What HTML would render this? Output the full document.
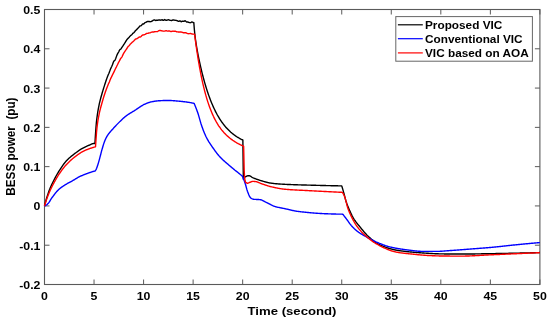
<!DOCTYPE html>
<html><head><meta charset="utf-8"><style>
html,body{margin:0;padding:0;background:#fff;}
svg{display:block;}
text{font-family:"Liberation Sans",Arial,sans-serif;font-weight:bold;fill:#000;}
</style></head><body>
<svg width="550" height="322" viewBox="0 0 550 322">
<rect width="550" height="322" fill="#fff"/>
<rect x="44.5" y="9.5" width="495.40" height="275.0" fill="none" stroke="#5a5a5a" stroke-width="1.1"/>
<path d="M44.50,284.5v-5M44.50,9.5v5M94.04,284.5v-5M94.04,9.5v5M143.58,284.5v-5M143.58,9.5v5M193.12,284.5v-5M193.12,9.5v5M242.66,284.5v-5M242.66,9.5v5M292.20,284.5v-5M292.20,9.5v5M341.74,284.5v-5M341.74,9.5v5M391.28,284.5v-5M391.28,9.5v5M440.82,284.5v-5M440.82,9.5v5M490.36,284.5v-5M490.36,9.5v5M539.90,284.5v-5M539.90,9.5v5M44.5,284.50h5M539.9,284.50h-5M44.5,245.21h5M539.9,245.21h-5M44.5,205.93h5M539.9,205.93h-5M44.5,166.64h5M539.9,166.64h-5M44.5,127.36h5M539.9,127.36h-5M44.5,88.07h5M539.9,88.07h-5M44.5,48.79h5M539.9,48.79h-5M44.5,9.50h5M539.9,9.50h-5" stroke="#5a5a5a" stroke-width="1" fill="none"/>
<path d="M44.50,205.93 L45.00,203.98 L45.50,202.09 L46.00,200.28 L46.50,198.54 L47.00,196.90 L47.50,195.34 L48.00,193.86 L48.49,192.45 L48.99,191.09 L49.49,189.79 L49.99,188.55 L50.49,187.35 L50.99,186.20 L51.49,185.09 L51.99,184.02 L52.49,182.99 L52.99,181.98 L53.49,180.99 L53.99,180.02 L54.49,179.06 L54.99,178.12 L55.49,177.20 L55.98,176.28 L56.48,175.39 L56.98,174.51 L57.48,173.64 L57.98,172.80 L58.48,171.98 L58.98,171.17 L59.48,170.39 L59.98,169.61 L60.48,168.84 L60.98,168.08 L61.48,167.32 L61.98,166.58 L62.48,165.85 L62.97,165.13 L63.47,164.44 L63.97,163.76 L64.47,163.11 L64.97,162.48 L65.47,161.88 L65.97,161.30 L66.47,160.76 L66.97,160.24 L67.47,159.74 L67.97,159.24 L68.47,158.77 L68.97,158.30 L69.47,157.85 L69.97,157.41 L70.46,156.98 L70.96,156.56 L71.46,156.15 L71.96,155.74 L72.46,155.34 L72.96,154.95 L73.46,154.57 L73.96,154.18 L74.46,153.81 L74.96,153.43 L75.46,153.06 L75.96,152.69 L76.46,152.31 L76.96,151.94 L77.46,151.58 L77.95,151.22 L78.45,150.86 L78.95,150.51 L79.45,150.17 L79.95,149.84 L80.45,149.52 L80.95,149.20 L81.45,148.90 L81.95,148.61 L82.45,148.33 L82.95,148.05 L83.45,147.79 L83.95,147.53 L84.45,147.28 L84.95,147.03 L85.44,146.80 L85.94,146.56 L86.44,146.34 L86.94,146.12 L87.44,145.90 L87.94,145.69 L88.44,145.48 L88.94,145.25 L89.44,145.01 L89.94,144.77 L90.44,144.53 L90.94,144.29 L91.44,144.08 L91.94,143.89 L92.44,143.72 L92.93,143.59 L93.43,143.50 L93.93,143.47 L94.43,143.46 L94.93,143.46 L94.93,143.46 L95.43,135.03 L95.93,127.98 L96.42,122.11 L96.92,117.82 L97.42,114.23 L97.91,111.10 L98.41,108.32 L98.91,105.78 L99.40,103.44 L99.90,101.32 L100.40,99.36 L100.89,97.52 L101.39,95.74 L101.89,93.97 L102.39,92.25 L102.88,90.59 L103.38,88.97 L103.88,87.39 L104.37,85.87 L104.87,84.27 L105.37,82.74 L105.86,81.25 L106.36,79.78 L106.86,78.36 L107.35,76.94 L107.85,75.73 L108.35,74.51 L108.84,73.44 L109.34,72.15 L109.84,70.85 L110.34,69.45 L110.83,68.34 L111.33,67.31 L111.83,66.28 L112.32,65.08 L112.82,63.72 L113.32,62.32 L113.81,61.24 L114.31,60.67 L114.81,60.35 L115.30,59.59 L115.80,58.30 L116.30,56.87 L116.80,55.43 L117.29,54.36 L117.79,53.39 L118.29,52.71 L118.78,51.73 L119.28,50.60 L119.78,49.73 L120.27,49.29 L120.77,49.02 L121.27,48.44 L121.76,47.61 L122.26,46.83 L122.76,46.14 L123.25,45.49 L123.75,44.70 L124.25,43.89 L124.75,43.02 L125.24,42.26 L125.74,41.49 L126.24,40.74 L126.73,39.87 L127.23,39.22 L127.73,38.67 L128.22,38.30 L128.72,37.63 L129.22,37.14 L129.71,36.43 L130.21,36.00 L130.71,35.41 L131.20,35.11 L131.70,34.71 L132.20,34.16 L132.70,33.56 L133.19,33.09 L133.69,32.79 L134.19,32.38 L134.68,31.72 L135.18,31.00 L135.68,30.46 L136.17,30.05 L136.67,29.66 L137.17,29.00 L137.66,28.44 L138.16,27.96 L138.66,27.57 L139.16,26.89 L139.65,26.29 L140.15,25.92 L140.65,25.85 L141.14,25.69 L141.64,25.15 L142.14,24.51 L142.63,24.02 L143.13,23.98 L143.63,23.95 L144.12,23.59 L144.62,23.00 L145.12,22.58 L145.61,22.44 L146.11,22.25 L146.61,21.90 L147.11,21.57 L147.60,21.41 L148.10,21.47 L148.60,21.43 L149.09,21.55 L149.59,21.54 L150.09,21.73 L150.58,21.62 L151.08,21.48 L151.58,21.31 L152.07,21.00 L152.57,20.79 L153.07,20.39 L153.57,20.19 L154.06,19.90 L154.56,19.91 L155.06,20.24 L155.55,20.49 L156.05,20.52 L156.55,20.19 L157.04,20.16 L157.54,20.21 L158.04,20.19 L158.53,20.03 L159.03,19.84 L159.53,19.96 L160.02,20.02 L160.52,20.22 L161.02,20.12 L161.52,19.96 L162.01,19.74 L162.51,19.98 L163.01,20.41 L163.50,20.39 L164.00,19.91 L164.50,19.53 L164.99,19.75 L165.49,20.11 L165.99,20.21 L166.48,20.20 L166.98,20.08 L167.48,20.02 L167.98,19.81 L168.47,19.81 L168.97,19.86 L169.47,20.05 L169.96,20.25 L170.46,20.33 L170.96,20.43 L171.45,20.47 L171.95,20.46 L172.45,20.27 L172.94,19.96 L173.44,19.89 L173.94,19.97 L174.43,20.18 L174.93,20.31 L175.43,20.32 L175.93,20.42 L176.42,20.47 L176.92,20.67 L177.42,20.78 L177.91,21.09 L178.41,21.31 L178.91,21.26 L179.40,21.06 L179.90,20.83 L180.40,21.24 L180.89,21.50 L181.39,21.75 L181.89,21.43 L182.39,21.29 L182.88,21.29 L183.38,21.40 L183.88,21.31 L184.37,20.98 L184.87,20.80 L185.37,20.88 L185.86,21.34 L186.36,21.78 L186.86,22.02 L187.35,22.04 L187.85,22.01 L188.35,22.23 L188.84,22.36 L189.34,22.60 L189.84,22.60 L190.34,22.71 L190.83,22.54 L191.33,22.26 L191.83,21.99 L192.32,22.14 L192.82,22.21 L193.32,22.63 L193.81,22.66 L193.81,22.67 L194.31,28.98 L194.81,34.12 L195.31,38.28 L195.82,41.91 L196.32,45.14 L196.82,48.12 L197.32,50.92 L197.82,53.57 L198.32,56.12 L198.82,58.57 L199.32,60.94 L199.82,63.25 L200.32,65.48 L200.82,67.66 L201.32,69.77 L201.82,71.83 L202.32,73.84 L202.82,75.79 L203.32,77.69 L203.82,79.55 L204.32,81.35 L204.82,83.11 L205.32,84.82 L205.82,86.49 L206.32,88.11 L206.83,89.69 L207.33,91.23 L207.83,92.73 L208.33,94.19 L208.83,95.61 L209.33,97.00 L209.83,98.35 L210.33,99.67 L210.83,100.95 L211.33,102.20 L211.83,103.41 L212.33,104.59 L212.83,105.75 L213.33,106.87 L213.83,107.96 L214.33,109.03 L214.83,110.07 L215.33,111.08 L215.83,112.06 L216.33,113.02 L216.83,113.96 L217.33,114.87 L217.84,115.75 L218.34,116.62 L218.84,117.46 L219.34,118.27 L219.84,119.07 L220.34,119.85 L220.84,120.61 L221.34,121.34 L221.84,122.06 L222.34,122.76 L222.84,123.44 L223.34,124.10 L223.84,124.75 L224.34,125.38 L224.84,125.99 L225.34,126.59 L225.84,127.17 L226.34,127.74 L226.84,128.29 L227.34,128.83 L227.84,129.35 L228.34,129.86 L228.85,130.36 L229.35,130.84 L229.85,131.31 L230.35,131.77 L230.85,132.22 L231.35,132.65 L231.85,133.08 L232.35,133.49 L232.85,133.89 L233.35,134.28 L233.85,134.67 L234.35,135.04 L234.85,135.40 L235.35,135.75 L235.85,136.10 L236.35,136.43 L236.85,136.76 L237.35,137.07 L237.85,137.38 L238.35,137.68 L238.85,137.98 L239.35,138.26 L239.86,138.54 L240.36,138.81 L240.86,139.08 L241.36,139.33 L241.86,139.58 L242.36,139.83 L242.86,140.07 L242.86,139.93 L243.36,179.19 L243.85,178.53 L244.35,177.60 L244.85,177.11 L245.34,176.80 L245.84,176.51 L246.34,176.26 L246.83,176.04 L247.33,175.87 L247.83,175.75 L248.32,175.69 L248.82,175.69 L249.32,175.78 L249.81,175.94 L250.31,176.17 L250.81,176.44 L251.31,176.74 L251.80,177.06 L252.30,177.37 L252.80,177.66 L253.29,177.92 L253.79,178.13 L254.29,178.33 L254.78,178.52 L255.28,178.71 L255.78,178.90 L256.27,179.08 L256.77,179.26 L257.27,179.44 L257.76,179.61 L258.26,179.78 L258.76,179.94 L259.26,180.10 L259.75,180.26 L260.25,180.41 L260.75,180.57 L261.24,180.71 L261.74,180.86 L262.24,181.01 L262.73,181.15 L263.23,181.30 L263.73,181.45 L264.22,181.60 L264.72,181.74 L265.22,181.88 L265.72,182.02 L266.21,182.16 L266.71,182.29 L267.21,182.42 L267.70,182.54 L268.20,182.66 L268.70,182.76 L269.19,182.86 L269.69,182.96 L270.19,183.04 L270.68,183.11 L271.18,183.18 L271.68,183.24 L272.17,183.30 L272.67,183.36 L273.17,183.42 L273.67,183.47 L274.16,183.53 L274.66,183.58 L275.16,183.63 L275.65,183.68 L276.15,183.72 L276.65,183.77 L277.14,183.81 L277.64,183.85 L278.14,183.89 L278.63,183.93 L279.13,183.97 L279.63,184.01 L280.13,184.04 L280.62,184.08 L281.12,184.11 L281.62,184.14 L282.11,184.17 L282.61,184.20 L283.11,184.23 L283.60,184.26 L284.10,184.28 L284.60,184.31 L285.09,184.33 L285.59,184.36 L286.09,184.38 L286.58,184.40 L287.08,184.43 L287.58,184.45 L288.08,184.47 L288.57,184.49 L289.07,184.51 L289.57,184.53 L290.06,184.55 L290.56,184.57 L291.06,184.59 L291.55,184.61 L292.05,184.63 L292.55,184.65 L293.04,184.67 L293.54,184.68 L294.04,184.70 L294.54,184.72 L295.03,184.73 L295.53,184.75 L296.03,184.76 L296.52,184.78 L297.02,184.80 L297.52,184.81 L298.01,184.83 L298.51,184.84 L299.01,184.86 L299.50,184.87 L300.00,184.88 L300.50,184.90 L300.99,184.91 L301.49,184.93 L301.99,184.94 L302.49,184.95 L302.98,184.97 L303.48,184.98 L303.98,185.00 L304.47,185.01 L304.97,185.02 L305.47,185.04 L305.96,185.05 L306.46,185.06 L306.96,185.08 L307.45,185.09 L307.95,185.10 L308.45,185.12 L308.95,185.13 L309.44,185.15 L309.94,185.16 L310.44,185.17 L310.93,185.19 L311.43,185.20 L311.93,185.21 L312.42,185.23 L312.92,185.24 L313.42,185.25 L313.91,185.27 L314.41,185.28 L314.91,185.29 L315.40,185.31 L315.90,185.32 L316.40,185.33 L316.90,185.35 L317.39,185.36 L317.89,185.37 L318.39,185.38 L318.88,185.40 L319.38,185.41 L319.88,185.42 L320.37,185.44 L320.87,185.45 L321.37,185.46 L321.86,185.47 L322.36,185.48 L322.86,185.50 L323.35,185.51 L323.85,185.52 L324.35,185.53 L324.85,185.54 L325.34,185.56 L325.84,185.57 L326.34,185.58 L326.83,185.59 L327.33,185.60 L327.83,185.61 L328.32,185.63 L328.82,185.64 L329.32,185.65 L329.81,185.66 L330.31,185.67 L330.81,185.68 L331.31,185.69 L331.80,185.70 L332.30,185.71 L332.80,185.72 L333.29,185.73 L333.79,185.74 L334.29,185.75 L334.78,185.76 L335.28,185.77 L335.78,185.78 L336.27,185.79 L336.77,185.80 L337.27,185.81 L337.76,185.82 L338.26,185.83 L338.76,185.84 L339.26,185.85 L339.75,185.86 L340.25,185.87 L340.75,185.88 L341.24,185.88 L341.74,185.89 L341.74,185.89 L342.24,187.49 L342.73,189.14 L343.23,190.83 L343.72,192.57 L344.22,194.44 L344.71,196.43 L345.21,198.40 L345.70,200.24 L346.20,201.82 L346.69,203.26 L347.19,204.61 L347.68,205.88 L348.18,207.10 L348.68,208.26 L349.17,209.41 L349.67,210.53 L350.16,211.64 L350.66,212.74 L351.15,213.80 L351.65,214.83 L352.14,215.82 L352.64,216.77 L353.13,217.66 L353.63,218.50 L354.12,219.29 L354.62,220.04 L355.12,220.76 L355.61,221.45 L356.11,222.12 L356.60,222.77 L357.10,223.40 L357.59,224.02 L358.09,224.62 L358.58,225.22 L359.08,225.82 L359.57,226.42 L360.07,227.02 L360.57,227.63 L361.06,228.24 L361.56,228.85 L362.05,229.45 L362.55,230.06 L363.04,230.66 L363.54,231.25 L364.03,231.84 L364.53,232.42 L365.02,232.99 L365.52,233.55 L366.01,234.09 L366.51,234.62 L367.01,235.14 L367.50,235.64 L368.00,236.11 L368.49,236.57 L368.99,237.02 L369.48,237.46 L369.98,237.90 L370.47,238.33 L370.97,238.76 L371.46,239.19 L371.96,239.60 L372.45,240.01 L372.95,240.42 L373.45,240.81 L373.94,241.19 L374.44,241.57 L374.93,241.93 L375.43,242.29 L375.92,242.63 L376.42,242.95 L376.91,243.27 L377.41,243.57 L377.90,243.86 L378.40,244.13 L378.89,244.39 L379.39,244.62 L379.89,244.85 L380.38,245.08 L380.88,245.30 L381.37,245.52 L381.87,245.73 L382.36,245.94 L382.86,246.14 L383.35,246.35 L383.85,246.54 L384.34,246.74 L384.84,246.93 L385.34,247.11 L385.83,247.29 L386.33,247.47 L386.82,247.64 L387.32,247.81 L387.81,247.97 L388.31,248.13 L388.80,248.29 L389.30,248.44 L389.79,248.59 L390.29,248.73 L390.78,248.87 L391.28,249.01 L391.78,249.14 L392.27,249.27 L392.77,249.39 L393.26,249.51 L393.76,249.62 L394.25,249.73 L394.75,249.84 L395.24,249.94 L395.74,250.03 L396.23,250.12 L396.73,250.21 L397.22,250.30 L397.72,250.38 L398.22,250.46 L398.71,250.54 L399.21,250.62 L399.70,250.70 L400.20,250.77 L400.69,250.84 L401.19,250.91 L401.68,250.98 L402.18,251.05 L402.67,251.11 L403.17,251.17 L403.67,251.23 L404.16,251.29 L404.66,251.35 L405.15,251.41 L405.65,251.47 L406.14,251.52 L406.64,251.58 L407.13,251.63 L407.63,251.68 L408.12,251.73 L408.62,251.78 L409.11,251.83 L409.61,251.88 L410.11,251.93 L410.60,251.98 L411.10,252.02 L411.59,252.07 L412.09,252.12 L412.58,252.16 L413.08,252.21 L413.57,252.25 L414.07,252.30 L414.56,252.34 L415.06,252.38 L415.55,252.42 L416.05,252.47 L416.55,252.51 L417.04,252.55 L417.54,252.59 L418.03,252.62 L418.53,252.66 L419.02,252.70 L419.52,252.74 L420.01,252.77 L420.51,252.81 L421.00,252.84 L421.50,252.88 L421.99,252.91 L422.49,252.95 L422.99,252.98 L423.48,253.01 L423.98,253.05 L424.47,253.08 L424.97,253.11 L425.46,253.14 L425.96,253.17 L426.45,253.20 L426.95,253.23 L427.44,253.26 L427.94,253.29 L428.44,253.32 L428.93,253.35 L429.43,253.38 L429.92,253.41 L430.42,253.44 L430.91,253.47 L431.41,253.50 L431.90,253.53 L432.40,253.56 L432.89,253.58 L433.39,253.61 L433.88,253.64 L434.38,253.66 L434.88,253.69 L435.37,253.71 L435.87,253.73 L436.36,253.75 L436.86,253.77 L437.35,253.79 L437.85,253.81 L438.34,253.82 L438.84,253.84 L439.33,253.85 L439.83,253.86 L440.32,253.87 L440.82,253.87 L441.32,253.88 L441.81,253.89 L442.31,253.90 L442.80,253.90 L443.30,253.91 L443.79,253.92 L444.29,253.93 L444.78,253.93 L445.28,253.94 L445.77,253.95 L446.27,253.95 L446.76,253.96 L447.26,253.97 L447.76,253.97 L448.25,253.98 L448.75,253.98 L449.24,253.99 L449.74,253.99 L450.23,254.00 L450.73,254.00 L451.22,254.01 L451.72,254.01 L452.21,254.02 L452.71,254.02 L453.20,254.02 L453.70,254.03 L454.20,254.03 L454.69,254.03 L455.19,254.04 L455.68,254.04 L456.18,254.04 L456.67,254.05 L457.17,254.05 L457.66,254.05 L458.16,254.05 L458.65,254.05 L459.15,254.05 L459.65,254.05 L460.14,254.05 L460.64,254.05 L461.13,254.05 L461.63,254.05 L462.12,254.05 L462.62,254.05 L463.11,254.05 L463.61,254.05 L464.10,254.04 L464.60,254.04 L465.09,254.04 L465.59,254.04 L466.09,254.03 L466.58,254.03 L467.08,254.02 L467.57,254.02 L468.07,254.01 L468.56,254.01 L469.06,254.00 L469.55,254.00 L470.05,253.99 L470.54,253.99 L471.04,253.98 L471.53,253.97 L472.03,253.97 L472.53,253.96 L473.02,253.95 L473.52,253.95 L474.01,253.94 L474.51,253.93 L475.00,253.93 L475.50,253.92 L475.99,253.91 L476.49,253.90 L476.98,253.89 L477.48,253.89 L477.98,253.88 L478.47,253.87 L478.97,253.86 L479.46,253.85 L479.96,253.84 L480.45,253.83 L480.95,253.83 L481.44,253.82 L481.94,253.81 L482.43,253.80 L482.93,253.79 L483.42,253.78 L483.92,253.77 L484.42,253.76 L484.91,253.75 L485.41,253.75 L485.90,253.74 L486.40,253.73 L486.89,253.72 L487.39,253.71 L487.88,253.70 L488.38,253.69 L488.87,253.69 L489.37,253.68 L489.86,253.67 L490.36,253.66 L490.86,253.65 L491.35,253.64 L491.85,253.64 L492.34,253.63 L492.84,253.62 L493.33,253.61 L493.83,253.60 L494.32,253.59 L494.82,253.59 L495.31,253.58 L495.81,253.57 L496.30,253.56 L496.80,253.55 L497.30,253.54 L497.79,253.53 L498.29,253.52 L498.78,253.52 L499.28,253.51 L499.77,253.50 L500.27,253.49 L500.76,253.48 L501.26,253.47 L501.75,253.46 L502.25,253.45 L502.75,253.44 L503.24,253.43 L503.74,253.42 L504.23,253.41 L504.73,253.40 L505.22,253.39 L505.72,253.38 L506.21,253.37 L506.71,253.36 L507.20,253.35 L507.70,253.34 L508.19,253.33 L508.69,253.32 L509.19,253.31 L509.68,253.30 L510.18,253.29 L510.67,253.28 L511.17,253.27 L511.66,253.26 L512.16,253.25 L512.65,253.24 L513.15,253.23 L513.64,253.22 L514.14,253.20 L514.63,253.19 L515.13,253.18 L515.63,253.17 L516.12,253.16 L516.62,253.15 L517.11,253.14 L517.61,253.13 L518.10,253.12 L518.60,253.10 L519.09,253.09 L519.59,253.08 L520.08,253.07 L520.58,253.06 L521.07,253.05 L521.57,253.03 L522.07,253.02 L522.56,253.01 L523.06,253.00 L523.55,252.99 L524.05,252.97 L524.54,252.96 L525.04,252.95 L525.53,252.94 L526.03,252.93 L526.52,252.91 L527.02,252.90 L527.51,252.89 L528.01,252.88 L528.51,252.86 L529.00,252.85 L529.50,252.84 L529.99,252.83 L530.49,252.81 L530.98,252.80 L531.48,252.79 L531.97,252.77 L532.47,252.76 L532.96,252.75 L533.46,252.74 L533.96,252.72 L534.45,252.71 L534.95,252.70 L535.44,252.68 L535.94,252.67 L536.43,252.66 L536.93,252.64 L537.42,252.63 L537.92,252.62 L538.41,252.60 L538.91,252.59 L539.40,252.57 L539.90,252.56" stroke="#000" stroke-width="1.4" fill="none" stroke-linejoin="round"/>
<path d="M44.50,205.93 L45.00,205.75 L45.50,205.52 L46.00,205.23 L46.50,204.90 L47.00,204.54 L47.50,204.11 L48.00,203.61 L48.50,203.03 L49.00,202.40 L49.50,201.67 L50.00,200.79 L50.50,199.94 L51.00,199.18 L51.50,198.44 L52.00,197.71 L52.50,197.01 L53.01,196.32 L53.51,195.65 L54.01,194.98 L54.51,194.32 L55.01,193.67 L55.51,193.04 L56.01,192.43 L56.51,191.84 L57.01,191.29 L57.51,190.76 L58.01,190.25 L58.51,189.76 L59.01,189.29 L59.51,188.84 L60.01,188.41 L60.51,188.01 L61.01,187.62 L61.51,187.25 L62.01,186.89 L62.51,186.55 L63.01,186.21 L63.51,185.88 L64.01,185.57 L64.51,185.25 L65.01,184.94 L65.51,184.63 L66.01,184.33 L66.51,184.03 L67.01,183.74 L67.51,183.46 L68.01,183.18 L68.51,182.91 L69.01,182.64 L69.52,182.37 L70.02,182.10 L70.52,181.83 L71.02,181.56 L71.52,181.29 L72.02,181.02 L72.52,180.74 L73.02,180.45 L73.52,180.16 L74.02,179.86 L74.52,179.56 L75.02,179.26 L75.52,178.95 L76.02,178.65 L76.52,178.35 L77.02,178.05 L77.52,177.76 L78.02,177.48 L78.52,177.20 L79.02,176.94 L79.52,176.69 L80.02,176.45 L80.52,176.21 L81.02,175.98 L81.52,175.75 L82.02,175.53 L82.52,175.32 L83.02,175.11 L83.52,174.90 L84.02,174.70 L84.52,174.50 L85.02,174.30 L85.53,174.11 L86.03,173.92 L86.53,173.73 L87.03,173.55 L87.53,173.37 L88.03,173.19 L88.53,173.01 L89.03,172.83 L89.53,172.66 L90.03,172.49 L90.53,172.33 L91.03,172.16 L91.53,172.00 L92.03,171.85 L92.53,171.69 L93.03,171.54 L93.53,171.39 L94.03,171.24 L94.53,171.10 L95.03,170.96 L95.03,170.96 L95.53,170.38 L96.02,169.59 L96.52,168.55 L97.01,167.26 L97.51,165.86 L98.00,164.32 L98.50,162.63 L98.99,160.87 L99.49,159.07 L99.98,157.18 L100.48,155.25 L100.98,153.31 L101.47,151.43 L101.97,149.66 L102.46,147.97 L102.96,146.30 L103.45,144.67 L103.95,143.13 L104.44,141.70 L104.94,140.43 L105.43,139.32 L105.93,138.30 L106.42,137.34 L106.92,136.46 L107.42,135.64 L107.91,134.87 L108.41,134.15 L108.90,133.48 L109.40,132.85 L109.89,132.26 L110.39,131.69 L110.88,131.14 L111.38,130.60 L111.87,130.05 L112.37,129.49 L112.87,128.93 L113.36,128.37 L113.86,127.82 L114.35,127.27 L114.85,126.73 L115.34,126.19 L115.84,125.66 L116.33,125.14 L116.83,124.62 L117.32,124.12 L117.82,123.62 L118.31,123.12 L118.81,122.62 L119.31,122.12 L119.80,121.63 L120.30,121.14 L120.79,120.65 L121.29,120.17 L121.78,119.69 L122.28,119.23 L122.77,118.77 L123.27,118.32 L123.76,117.88 L124.26,117.45 L124.75,117.03 L125.25,116.62 L125.75,116.23 L126.24,115.85 L126.74,115.49 L127.23,115.14 L127.73,114.79 L128.22,114.46 L128.72,114.14 L129.21,113.82 L129.71,113.51 L130.20,113.20 L130.70,112.90 L131.19,112.60 L131.69,112.30 L132.19,112.00 L132.68,111.70 L133.18,111.40 L133.67,111.10 L134.17,110.80 L134.66,110.49 L135.16,110.17 L135.65,109.85 L136.15,109.52 L136.64,109.18 L137.14,108.85 L137.64,108.51 L138.13,108.17 L138.63,107.82 L139.12,107.49 L139.62,107.15 L140.11,106.82 L140.61,106.50 L141.10,106.18 L141.60,105.87 L142.09,105.57 L142.59,105.28 L143.08,105.00 L143.58,104.74 L144.08,104.49 L144.57,104.26 L145.07,104.04 L145.56,103.83 L146.06,103.62 L146.55,103.41 L147.05,103.21 L147.54,103.02 L148.04,102.83 L148.53,102.65 L149.03,102.49 L149.52,102.33 L150.02,102.18 L150.52,102.05 L151.01,101.93 L151.51,101.82 L152.00,101.72 L152.50,101.63 L152.99,101.54 L153.49,101.45 L153.98,101.36 L154.48,101.28 L154.97,101.20 L155.47,101.13 L155.97,101.06 L156.46,101.00 L156.96,100.94 L157.45,100.88 L157.95,100.84 L158.44,100.79 L158.94,100.76 L159.43,100.73 L159.93,100.70 L160.42,100.68 L160.92,100.65 L161.41,100.63 L161.91,100.61 L162.41,100.59 L162.90,100.57 L163.40,100.55 L163.89,100.53 L164.39,100.51 L164.88,100.50 L165.38,100.49 L165.87,100.47 L166.37,100.46 L166.86,100.46 L167.36,100.45 L167.85,100.45 L168.35,100.45 L168.85,100.45 L169.34,100.46 L169.84,100.47 L170.33,100.49 L170.83,100.52 L171.32,100.54 L171.82,100.58 L172.31,100.61 L172.81,100.65 L173.30,100.69 L173.80,100.73 L174.29,100.77 L174.79,100.82 L175.29,100.86 L175.78,100.91 L176.28,100.95 L176.77,100.99 L177.27,101.04 L177.76,101.08 L178.26,101.12 L178.75,101.16 L179.25,101.21 L179.74,101.26 L180.24,101.30 L180.74,101.35 L181.23,101.40 L181.73,101.46 L182.22,101.51 L182.72,101.57 L183.21,101.62 L183.71,101.68 L184.20,101.74 L184.70,101.80 L185.19,101.86 L185.69,101.92 L186.18,101.99 L186.68,102.06 L187.18,102.12 L187.67,102.19 L188.17,102.26 L188.66,102.34 L189.16,102.41 L189.65,102.49 L190.15,102.57 L190.64,102.66 L191.14,102.76 L191.63,102.86 L192.13,102.96 L192.62,103.07 L193.12,103.17 L193.62,103.28 L194.11,103.39 L194.11,103.39 L194.61,104.51 L195.11,105.69 L195.61,106.92 L196.10,108.20 L196.60,109.53 L197.10,110.90 L197.60,112.31 L198.10,113.79 L198.60,115.41 L199.10,117.13 L199.59,118.90 L200.09,120.67 L200.59,122.40 L201.09,124.03 L201.59,125.52 L202.09,126.93 L202.58,128.30 L203.08,129.64 L203.58,130.93 L204.08,132.19 L204.58,133.40 L205.08,134.56 L205.58,135.67 L206.07,136.73 L206.57,137.72 L207.07,138.67 L207.57,139.57 L208.07,140.44 L208.57,141.28 L209.06,142.09 L209.56,142.87 L210.06,143.63 L210.56,144.38 L211.06,145.11 L211.56,145.84 L212.06,146.55 L212.55,147.27 L213.05,147.99 L213.55,148.70 L214.05,149.41 L214.55,150.11 L215.05,150.80 L215.54,151.48 L216.04,152.15 L216.54,152.81 L217.04,153.46 L217.54,154.09 L218.04,154.71 L218.54,155.31 L219.03,155.89 L219.53,156.45 L220.03,156.99 L220.53,157.52 L221.03,158.03 L221.53,158.54 L222.02,159.03 L222.52,159.51 L223.02,159.98 L223.52,160.44 L224.02,160.89 L224.52,161.34 L225.02,161.78 L225.51,162.22 L226.01,162.65 L226.51,163.07 L227.01,163.49 L227.51,163.91 L228.01,164.33 L228.50,164.75 L229.00,165.17 L229.50,165.59 L230.00,166.01 L230.50,166.44 L231.00,166.86 L231.50,167.29 L231.99,167.71 L232.49,168.13 L232.99,168.55 L233.49,168.96 L233.99,169.37 L234.49,169.78 L234.98,170.19 L235.48,170.58 L235.98,170.98 L236.48,171.37 L236.98,171.76 L237.48,172.15 L237.98,172.55 L238.47,172.94 L238.97,173.35 L239.47,173.76 L239.97,174.17 L240.47,174.58 L240.97,175.00 L241.46,175.42 L241.96,175.84 L242.46,176.27 L242.46,176.27 L242.96,177.42 L243.45,178.65 L243.95,179.96 L244.45,181.33 L244.94,182.76 L245.44,184.25 L245.94,185.96 L246.43,187.82 L246.93,189.65 L247.43,191.27 L247.92,192.59 L248.42,193.86 L248.91,195.07 L249.41,196.14 L249.91,197.03 L250.40,197.67 L250.90,198.07 L251.40,198.41 L251.89,198.69 L252.39,198.93 L252.89,199.11 L253.38,199.22 L253.88,199.29 L254.37,199.33 L254.87,199.37 L255.37,199.40 L255.86,199.42 L256.36,199.44 L256.86,199.46 L257.35,199.48 L257.85,199.50 L258.35,199.52 L258.84,199.55 L259.34,199.58 L259.84,199.63 L260.33,199.69 L260.83,199.79 L261.32,199.93 L261.82,200.11 L262.32,200.31 L262.81,200.54 L263.31,200.78 L263.81,201.04 L264.30,201.30 L264.80,201.56 L265.30,201.83 L265.79,202.08 L266.29,202.32 L266.78,202.55 L267.28,202.80 L267.78,203.05 L268.27,203.32 L268.77,203.59 L269.27,203.87 L269.76,204.14 L270.26,204.42 L270.76,204.69 L271.25,204.96 L271.75,205.21 L272.24,205.46 L272.74,205.69 L273.24,205.91 L273.73,206.10 L274.23,206.28 L274.73,206.43 L275.22,206.58 L275.72,206.72 L276.22,206.85 L276.71,206.98 L277.21,207.10 L277.70,207.22 L278.20,207.33 L278.70,207.44 L279.19,207.54 L279.69,207.64 L280.19,207.74 L280.68,207.84 L281.18,207.94 L281.68,208.04 L282.17,208.13 L282.67,208.23 L283.17,208.33 L283.66,208.43 L284.16,208.53 L284.65,208.63 L285.15,208.74 L285.65,208.85 L286.14,208.96 L286.64,209.07 L287.14,209.19 L287.63,209.30 L288.13,209.42 L288.63,209.54 L289.12,209.65 L289.62,209.77 L290.11,209.89 L290.61,210.00 L291.11,210.12 L291.60,210.23 L292.10,210.34 L292.60,210.45 L293.09,210.55 L293.59,210.66 L294.09,210.76 L294.58,210.85 L295.08,210.95 L295.57,211.04 L296.07,211.12 L296.57,211.20 L297.06,211.28 L297.56,211.35 L298.06,211.42 L298.55,211.48 L299.05,211.54 L299.55,211.60 L300.04,211.66 L300.54,211.72 L301.03,211.78 L301.53,211.83 L302.03,211.89 L302.52,211.95 L303.02,212.00 L303.52,212.06 L304.01,212.11 L304.51,212.16 L305.01,212.22 L305.50,212.27 L306.00,212.32 L306.49,212.37 L306.99,212.42 L307.49,212.47 L307.98,212.52 L308.48,212.56 L308.98,212.61 L309.47,212.66 L309.97,212.70 L310.47,212.75 L310.96,212.79 L311.46,212.83 L311.96,212.88 L312.45,212.92 L312.95,212.96 L313.44,213.00 L313.94,213.04 L314.44,213.08 L314.93,213.11 L315.43,213.15 L315.93,213.19 L316.42,213.22 L316.92,213.26 L317.42,213.29 L317.91,213.33 L318.41,213.36 L318.90,213.39 L319.40,213.42 L319.90,213.45 L320.39,213.48 L320.89,213.51 L321.39,213.54 L321.88,213.56 L322.38,213.59 L322.88,213.61 L323.37,213.64 L323.87,213.66 L324.36,213.68 L324.86,213.71 L325.36,213.73 L325.85,213.75 L326.35,213.77 L326.85,213.78 L327.34,213.80 L327.84,213.82 L328.34,213.84 L328.83,213.86 L329.33,213.87 L329.82,213.89 L330.32,213.91 L330.82,213.92 L331.31,213.94 L331.81,213.96 L332.31,213.97 L332.80,213.99 L333.30,214.00 L333.80,214.02 L334.29,214.03 L334.79,214.04 L335.29,214.06 L335.78,214.07 L336.28,214.08 L336.77,214.09 L337.27,214.11 L337.77,214.12 L338.26,214.13 L338.76,214.13 L339.26,214.14 L339.75,214.15 L340.25,214.16 L340.75,214.16 L341.24,214.17 L341.74,214.17 L342.23,214.18 L342.73,214.18 L342.73,214.18 L343.23,214.81 L343.72,215.44 L344.22,216.07 L344.72,216.71 L345.21,217.35 L345.71,218.00 L346.21,218.65 L346.70,219.30 L347.20,219.97 L347.70,220.66 L348.19,221.36 L348.69,222.07 L349.19,222.78 L349.68,223.47 L350.18,224.14 L350.68,224.77 L351.17,225.37 L351.67,225.93 L352.17,226.47 L352.66,227.00 L353.16,227.51 L353.66,228.01 L354.15,228.50 L354.65,228.97 L355.15,229.43 L355.64,229.87 L356.14,230.30 L356.64,230.71 L357.13,231.11 L357.63,231.49 L358.13,231.86 L358.62,232.22 L359.12,232.56 L359.62,232.90 L360.11,233.23 L360.61,233.55 L361.11,233.86 L361.60,234.17 L362.10,234.46 L362.60,234.76 L363.09,235.05 L363.59,235.33 L364.09,235.61 L364.58,235.89 L365.08,236.17 L365.58,236.45 L366.07,236.72 L366.57,237.00 L367.07,237.27 L367.56,237.55 L368.06,237.82 L368.56,238.09 L369.05,238.36 L369.55,238.63 L370.05,238.90 L370.54,239.16 L371.04,239.42 L371.54,239.68 L372.03,239.94 L372.53,240.19 L373.03,240.44 L373.52,240.69 L374.02,240.93 L374.52,241.17 L375.01,241.40 L375.51,241.63 L376.01,241.86 L376.50,242.08 L377.00,242.29 L377.50,242.50 L377.99,242.71 L378.49,242.92 L378.99,243.12 L379.48,243.33 L379.98,243.53 L380.48,243.74 L380.97,243.94 L381.47,244.14 L381.97,244.33 L382.46,244.52 L382.96,244.72 L383.46,244.90 L383.95,245.09 L384.45,245.27 L384.95,245.44 L385.44,245.62 L385.94,245.79 L386.44,245.95 L386.93,246.11 L387.43,246.26 L387.93,246.41 L388.42,246.55 L388.92,246.69 L389.42,246.82 L389.91,246.94 L390.41,247.06 L390.91,247.17 L391.40,247.28 L391.90,247.39 L392.40,247.50 L392.89,247.61 L393.39,247.71 L393.89,247.81 L394.38,247.91 L394.88,248.01 L395.38,248.10 L395.87,248.19 L396.37,248.28 L396.87,248.37 L397.36,248.46 L397.86,248.54 L398.36,248.63 L398.85,248.71 L399.35,248.79 L399.85,248.87 L400.34,248.94 L400.84,249.02 L401.34,249.09 L401.83,249.16 L402.33,249.24 L402.83,249.31 L403.32,249.37 L403.82,249.44 L404.32,249.51 L404.81,249.57 L405.31,249.63 L405.81,249.70 L406.30,249.76 L406.80,249.83 L407.30,249.90 L407.79,249.96 L408.29,250.03 L408.78,250.09 L409.28,250.16 L409.78,250.23 L410.27,250.29 L410.77,250.36 L411.27,250.42 L411.76,250.49 L412.26,250.55 L412.76,250.61 L413.25,250.67 L413.75,250.73 L414.25,250.79 L414.74,250.85 L415.24,250.90 L415.74,250.95 L416.23,251.00 L416.73,251.05 L417.23,251.09 L417.72,251.14 L418.22,251.18 L418.72,251.21 L419.21,251.25 L419.71,251.28 L420.21,251.30 L420.70,251.33 L421.20,251.34 L421.70,251.36 L422.19,251.37 L422.69,251.38 L423.19,251.38 L423.68,251.39 L424.18,251.39 L424.68,251.39 L425.17,251.39 L425.67,251.40 L426.17,251.40 L426.66,251.40 L427.16,251.40 L427.66,251.40 L428.15,251.41 L428.65,251.41 L429.15,251.41 L429.64,251.41 L430.14,251.41 L430.64,251.41 L431.13,251.42 L431.63,251.42 L432.13,251.42 L432.62,251.42 L433.12,251.42 L433.62,251.42 L434.11,251.42 L434.61,251.42 L435.11,251.42 L435.60,251.42 L436.10,251.42 L436.60,251.42 L437.09,251.41 L437.59,251.40 L438.09,251.39 L438.58,251.37 L439.08,251.35 L439.58,251.33 L440.07,251.30 L440.57,251.28 L441.07,251.25 L441.56,251.22 L442.06,251.18 L442.56,251.15 L443.05,251.11 L443.55,251.08 L444.05,251.04 L444.54,251.00 L445.04,250.96 L445.54,250.92 L446.03,250.88 L446.53,250.84 L447.03,250.80 L447.52,250.76 L448.02,250.72 L448.52,250.68 L449.01,250.64 L449.51,250.60 L450.01,250.57 L450.50,250.53 L451.00,250.50 L451.50,250.47 L451.99,250.43 L452.49,250.40 L452.99,250.36 L453.48,250.33 L453.98,250.29 L454.48,250.26 L454.97,250.22 L455.47,250.19 L455.97,250.15 L456.46,250.11 L456.96,250.08 L457.46,250.04 L457.95,250.00 L458.45,249.96 L458.95,249.93 L459.44,249.89 L459.94,249.85 L460.44,249.81 L460.93,249.77 L461.43,249.74 L461.93,249.70 L462.42,249.66 L462.92,249.62 L463.42,249.58 L463.91,249.54 L464.41,249.50 L464.91,249.47 L465.40,249.43 L465.90,249.39 L466.40,249.35 L466.89,249.31 L467.39,249.27 L467.89,249.23 L468.38,249.19 L468.88,249.15 L469.38,249.11 L469.87,249.08 L470.37,249.04 L470.87,249.00 L471.36,248.96 L471.86,248.92 L472.36,248.88 L472.85,248.85 L473.35,248.81 L473.85,248.77 L474.34,248.73 L474.84,248.69 L475.34,248.66 L475.83,248.62 L476.33,248.58 L476.83,248.54 L477.32,248.51 L477.82,248.47 L478.32,248.43 L478.81,248.39 L479.31,248.36 L479.81,248.32 L480.30,248.28 L480.80,248.24 L481.30,248.21 L481.79,248.17 L482.29,248.13 L482.79,248.09 L483.28,248.05 L483.78,248.01 L484.28,247.98 L484.77,247.94 L485.27,247.90 L485.77,247.86 L486.26,247.82 L486.76,247.78 L487.26,247.74 L487.75,247.69 L488.25,247.65 L488.75,247.61 L489.24,247.57 L489.74,247.53 L490.24,247.48 L490.73,247.44 L491.23,247.40 L491.73,247.35 L492.22,247.31 L492.72,247.26 L493.22,247.22 L493.71,247.17 L494.21,247.12 L494.71,247.07 L495.20,247.02 L495.70,246.97 L496.19,246.92 L496.69,246.87 L497.19,246.82 L497.68,246.77 L498.18,246.71 L498.68,246.66 L499.17,246.60 L499.67,246.55 L500.17,246.50 L500.66,246.44 L501.16,246.39 L501.66,246.33 L502.15,246.27 L502.65,246.22 L503.15,246.16 L503.64,246.11 L504.14,246.05 L504.64,245.99 L505.13,245.94 L505.63,245.88 L506.13,245.83 L506.62,245.77 L507.12,245.71 L507.62,245.66 L508.11,245.60 L508.61,245.55 L509.11,245.49 L509.60,245.44 L510.10,245.39 L510.60,245.33 L511.09,245.28 L511.59,245.23 L512.09,245.18 L512.58,245.12 L513.08,245.07 L513.58,245.02 L514.07,244.98 L514.57,244.93 L515.07,244.88 L515.56,244.83 L516.06,244.78 L516.56,244.73 L517.05,244.68 L517.55,244.63 L518.05,244.58 L518.54,244.54 L519.04,244.49 L519.54,244.44 L520.03,244.39 L520.53,244.34 L521.03,244.30 L521.52,244.25 L522.02,244.20 L522.52,244.15 L523.01,244.11 L523.51,244.06 L524.01,244.01 L524.50,243.96 L525.00,243.92 L525.50,243.87 L525.99,243.82 L526.49,243.78 L526.99,243.73 L527.48,243.69 L527.98,243.64 L528.48,243.59 L528.97,243.55 L529.47,243.50 L529.97,243.46 L530.46,243.41 L530.96,243.37 L531.46,243.32 L531.95,243.28 L532.45,243.23 L532.95,243.19 L533.44,243.14 L533.94,243.10 L534.44,243.06 L534.93,243.01 L535.43,242.97 L535.93,242.92 L536.42,242.88 L536.92,242.84 L537.42,242.80 L537.91,242.75 L538.41,242.71 L538.91,242.67 L539.40,242.62 L539.90,242.58" stroke="#0000ff" stroke-width="1.4" fill="none" stroke-linejoin="round"/>
<path d="M44.50,205.93 L45.00,204.32 L45.49,202.76 L45.99,201.24 L46.48,199.78 L46.98,198.37 L47.47,197.02 L47.97,195.72 L48.46,194.46 L48.96,193.24 L49.45,192.06 L49.95,190.93 L50.44,189.82 L50.94,188.75 L51.44,187.71 L51.93,186.69 L52.43,185.71 L52.92,184.74 L53.42,183.80 L53.91,182.87 L54.41,181.96 L54.90,181.07 L55.40,180.19 L55.89,179.32 L56.39,178.46 L56.88,177.63 L57.38,176.80 L57.88,176.00 L58.37,175.22 L58.87,174.45 L59.36,173.71 L59.86,172.99 L60.35,172.27 L60.85,171.56 L61.34,170.87 L61.84,170.18 L62.33,169.51 L62.83,168.85 L63.33,168.20 L63.82,167.57 L64.32,166.96 L64.81,166.36 L65.31,165.78 L65.80,165.22 L66.30,164.68 L66.79,164.15 L67.29,163.64 L67.78,163.13 L68.28,162.64 L68.77,162.15 L69.27,161.68 L69.77,161.21 L70.26,160.75 L70.76,160.30 L71.25,159.86 L71.75,159.43 L72.24,159.00 L72.74,158.58 L73.23,158.17 L73.73,157.77 L74.22,157.37 L74.72,156.98 L75.21,156.59 L75.71,156.21 L76.21,155.84 L76.70,155.47 L77.20,155.11 L77.69,154.75 L78.19,154.40 L78.68,154.06 L79.18,153.72 L79.67,153.40 L80.17,153.08 L80.66,152.77 L81.16,152.47 L81.66,152.19 L82.15,151.91 L82.65,151.64 L83.14,151.39 L83.64,151.13 L84.13,150.89 L84.63,150.65 L85.12,150.42 L85.62,150.19 L86.11,149.97 L86.61,149.76 L87.10,149.55 L87.60,149.35 L88.10,149.16 L88.59,148.97 L89.09,148.79 L89.58,148.62 L90.08,148.45 L90.57,148.28 L91.07,148.12 L91.56,147.96 L92.06,147.80 L92.55,147.65 L93.05,147.50 L93.54,147.35 L94.04,147.20 L94.54,147.05 L95.03,146.90 L95.53,146.76 L95.53,146.76 L96.02,139.18 L96.52,132.55 L97.01,127.36 L97.51,123.43 L98.00,120.15 L98.50,117.32 L98.99,114.79 L99.49,112.45 L99.98,110.33 L100.48,108.37 L100.98,106.52 L101.47,104.75 L101.97,103.00 L102.46,101.26 L102.96,99.57 L103.45,97.91 L103.95,96.30 L104.44,94.75 L104.94,93.25 L105.43,91.81 L105.93,90.43 L106.42,89.10 L106.92,87.80 L107.42,86.54 L107.91,85.30 L108.41,84.09 L108.90,82.91 L109.40,81.95 L109.89,80.50 L110.39,79.24 L110.88,78.13 L111.38,77.15 L111.87,76.13 L112.37,75.10 L112.87,74.06 L113.36,73.13 L113.86,72.14 L114.35,71.16 L114.85,70.01 L115.34,68.97 L115.84,67.93 L116.33,67.05 L116.83,66.04 L117.32,65.06 L117.82,63.94 L118.31,62.94 L118.81,62.02 L119.31,61.14 L119.80,60.18 L120.30,59.19 L120.79,58.38 L121.29,57.86 L121.78,57.19 L122.28,56.30 L122.77,55.12 L123.27,54.07 L123.76,53.12 L124.26,52.34 L124.75,51.61 L125.25,50.85 L125.75,50.15 L126.24,49.42 L126.74,48.78 L127.23,47.94 L127.73,47.14 L128.22,46.40 L128.72,45.97 L129.21,45.48 L129.71,44.92 L130.20,44.19 L130.70,43.71 L131.19,43.21 L131.69,42.84 L132.19,42.31 L132.68,41.91 L133.18,41.49 L133.67,41.03 L134.17,40.49 L134.66,39.91 L135.16,39.40 L135.65,39.02 L136.15,38.88 L136.64,38.73 L137.14,38.53 L137.64,38.13 L138.13,37.81 L138.63,37.46 L139.12,37.20 L139.62,36.98 L140.11,36.98 L140.61,36.82 L141.10,36.52 L141.60,35.86 L142.09,35.39 L142.59,35.05 L143.08,34.99 L143.58,34.87 L144.08,34.75 L144.57,34.64 L145.07,34.45 L145.56,34.14 L146.06,33.71 L146.55,33.48 L147.05,33.40 L147.54,33.37 L148.04,33.23 L148.53,33.05 L149.03,32.95 L149.52,32.91 L150.02,32.82 L150.52,32.63 L151.01,32.39 L151.51,32.15 L152.00,32.07 L152.50,31.94 L152.99,32.00 L153.49,31.94 L153.98,31.93 L154.48,31.79 L154.97,31.70 L155.47,31.65 L155.97,31.64 L156.46,31.66 L156.96,31.63 L157.45,31.52 L157.95,31.24 L158.44,30.94 L158.94,30.61 L159.43,30.45 L159.93,30.41 L160.42,30.52 L160.92,30.68 L161.41,30.71 L161.91,30.86 L162.41,30.86 L162.90,31.10 L163.40,31.09 L163.89,31.18 L164.39,31.07 L164.88,31.01 L165.38,30.88 L165.87,30.75 L166.37,30.79 L166.86,30.92 L167.36,31.12 L167.85,31.11 L168.35,31.02 L168.85,30.94 L169.34,31.01 L169.84,31.19 L170.33,31.39 L170.83,31.51 L171.32,31.55 L171.82,31.44 L172.31,31.24 L172.81,31.10 L173.30,31.08 L173.80,31.26 L174.29,31.25 L174.79,31.27 L175.29,31.15 L175.78,31.34 L176.28,31.54 L176.77,31.81 L177.27,31.89 L177.76,31.88 L178.26,31.94 L178.75,31.98 L179.25,32.14 L179.74,32.04 L180.24,32.04 L180.74,31.88 L181.23,32.05 L181.73,32.13 L182.22,32.43 L182.72,32.52 L183.21,32.68 L183.71,32.70 L184.20,32.73 L184.70,32.71 L185.19,32.66 L185.69,32.68 L186.18,32.84 L186.68,33.13 L187.18,33.41 L187.67,33.62 L188.17,33.67 L188.66,33.72 L189.16,33.63 L189.65,33.61 L190.15,33.53 L190.64,33.53 L191.14,33.64 L191.63,33.81 L192.13,33.99 L192.62,34.07 L193.12,34.08 L193.62,34.14 L194.11,34.19 L194.61,34.25 L194.61,34.18 L195.10,38.06 L195.60,41.79 L196.09,45.39 L196.59,48.87 L197.08,52.22 L197.58,55.45 L198.07,58.57 L198.57,61.57 L199.06,64.47 L199.56,67.27 L200.06,69.97 L200.55,72.57 L201.05,75.09 L201.54,77.51 L202.04,79.85 L202.53,82.11 L203.03,84.29 L203.52,86.40 L204.02,88.43 L204.51,90.40 L205.01,92.29 L205.50,94.12 L206.00,95.89 L206.50,97.60 L206.99,99.25 L207.49,100.84 L207.98,102.38 L208.48,103.87 L208.97,105.31 L209.47,106.70 L209.96,108.05 L210.46,109.35 L210.95,110.61 L211.45,111.82 L211.95,113.00 L212.44,114.14 L212.94,115.24 L213.43,116.31 L213.93,117.34 L214.42,118.34 L214.92,119.31 L215.41,120.24 L215.91,121.15 L216.40,122.03 L216.90,122.88 L217.39,123.71 L217.89,124.51 L218.39,125.28 L218.88,126.04 L219.38,126.77 L219.87,127.47 L220.37,128.16 L220.86,128.83 L221.36,129.47 L221.85,130.10 L222.35,130.71 L222.84,131.30 L223.34,131.88 L223.83,132.44 L224.33,132.98 L224.83,133.51 L225.32,134.02 L225.82,134.52 L226.31,135.01 L226.81,135.48 L227.30,135.94 L227.80,136.39 L228.29,136.82 L228.79,137.25 L229.28,137.66 L229.78,138.07 L230.28,138.46 L230.77,138.84 L231.27,139.22 L231.76,139.58 L232.26,139.94 L232.75,140.29 L233.25,140.63 L233.74,140.96 L234.24,141.28 L234.73,141.60 L235.23,141.91 L235.72,142.21 L236.22,142.50 L236.72,142.79 L237.21,143.08 L237.71,143.35 L238.20,143.63 L238.70,143.89 L239.19,144.15 L239.69,144.41 L240.18,144.66 L240.68,144.90 L241.17,145.14 L241.67,145.38 L242.16,145.61 L242.66,145.84 L243.16,146.06 L243.65,146.28 L243.65,146.21 L244.15,169.52 L244.65,178.46 L245.14,181.02 L245.64,182.17 L246.14,182.66 L246.64,183.00 L247.14,183.19 L247.63,183.21 L248.13,183.10 L248.63,182.91 L249.13,182.67 L249.63,182.43 L250.12,182.23 L250.62,182.02 L251.12,181.79 L251.62,181.58 L252.12,181.43 L252.61,181.38 L253.11,181.38 L253.61,181.41 L254.11,181.44 L254.60,181.48 L255.10,181.53 L255.60,181.58 L256.10,181.66 L256.60,181.77 L257.09,181.92 L257.59,182.10 L258.09,182.30 L258.59,182.51 L259.09,182.73 L259.58,182.96 L260.08,183.18 L260.58,183.39 L261.08,183.59 L261.58,183.76 L262.07,183.93 L262.57,184.10 L263.07,184.27 L263.57,184.44 L264.06,184.61 L264.56,184.78 L265.06,184.95 L265.56,185.12 L266.06,185.28 L266.55,185.44 L267.05,185.60 L267.55,185.76 L268.05,185.91 L268.55,186.06 L269.04,186.20 L269.54,186.34 L270.04,186.47 L270.54,186.59 L271.04,186.71 L271.53,186.83 L272.03,186.94 L272.53,187.06 L273.03,187.17 L273.52,187.28 L274.02,187.40 L274.52,187.51 L275.02,187.61 L275.52,187.72 L276.01,187.83 L276.51,187.93 L277.01,188.03 L277.51,188.13 L278.01,188.23 L278.50,188.32 L279.00,188.41 L279.50,188.50 L280.00,188.58 L280.50,188.67 L280.99,188.74 L281.49,188.82 L281.99,188.89 L282.49,188.96 L282.99,189.03 L283.48,189.09 L283.98,189.14 L284.48,189.19 L284.98,189.24 L285.47,189.29 L285.97,189.33 L286.47,189.38 L286.97,189.42 L287.47,189.46 L287.96,189.50 L288.46,189.54 L288.96,189.57 L289.46,189.61 L289.96,189.64 L290.45,189.68 L290.95,189.71 L291.45,189.74 L291.95,189.78 L292.45,189.81 L292.94,189.84 L293.44,189.87 L293.94,189.89 L294.44,189.92 L294.93,189.95 L295.43,189.98 L295.93,190.00 L296.43,190.03 L296.93,190.06 L297.42,190.08 L297.92,190.11 L298.42,190.13 L298.92,190.15 L299.42,190.18 L299.91,190.20 L300.41,190.23 L300.91,190.25 L301.41,190.27 L301.91,190.30 L302.40,190.32 L302.90,190.35 L303.40,190.37 L303.90,190.39 L304.39,190.42 L304.89,190.44 L305.39,190.47 L305.89,190.49 L306.39,190.52 L306.88,190.54 L307.38,190.57 L307.88,190.60 L308.38,190.62 L308.88,190.65 L309.37,190.68 L309.87,190.71 L310.37,190.73 L310.87,190.76 L311.37,190.79 L311.86,190.81 L312.36,190.84 L312.86,190.87 L313.36,190.90 L313.85,190.92 L314.35,190.95 L314.85,190.98 L315.35,191.00 L315.85,191.03 L316.34,191.05 L316.84,191.08 L317.34,191.11 L317.84,191.13 L318.34,191.16 L318.83,191.19 L319.33,191.21 L319.83,191.24 L320.33,191.26 L320.83,191.29 L321.32,191.32 L321.82,191.34 L322.32,191.37 L322.82,191.39 L323.32,191.42 L323.81,191.44 L324.31,191.47 L324.81,191.50 L325.31,191.52 L325.80,191.55 L326.30,191.57 L326.80,191.60 L327.30,191.62 L327.80,191.65 L328.29,191.67 L328.79,191.70 L329.29,191.72 L329.79,191.74 L330.29,191.77 L330.78,191.79 L331.28,191.82 L331.78,191.84 L332.28,191.87 L332.78,191.89 L333.27,191.92 L333.77,191.94 L334.27,191.96 L334.77,191.99 L335.26,192.01 L335.76,192.03 L336.26,192.06 L336.76,192.08 L337.26,192.11 L337.75,192.13 L338.25,192.15 L338.75,192.18 L339.25,192.20 L339.75,192.22 L340.24,192.24 L340.74,192.27 L341.24,192.29 L341.74,192.31 L342.24,192.34 L342.24,192.34 L342.73,192.94 L343.23,193.73 L343.73,194.68 L344.22,195.74 L344.72,196.91 L345.22,198.35 L345.71,200.15 L346.21,202.15 L346.71,204.19 L347.20,206.10 L347.70,207.74 L348.20,209.14 L348.69,210.47 L349.19,211.73 L349.69,212.92 L350.18,214.06 L350.68,215.14 L351.18,216.18 L351.67,217.18 L352.17,218.16 L352.66,219.12 L353.16,220.05 L353.66,220.96 L354.15,221.84 L354.65,222.69 L355.15,223.52 L355.64,224.32 L356.14,225.08 L356.64,225.82 L357.13,226.52 L357.63,227.19 L358.13,227.84 L358.62,228.47 L359.12,229.08 L359.62,229.67 L360.11,230.25 L360.61,230.82 L361.11,231.36 L361.60,231.90 L362.10,232.42 L362.60,232.93 L363.09,233.43 L363.59,233.91 L364.09,234.39 L364.58,234.85 L365.08,235.31 L365.58,235.75 L366.07,236.19 L366.57,236.62 L367.07,237.05 L367.56,237.47 L368.06,237.89 L368.56,238.30 L369.05,238.70 L369.55,239.10 L370.05,239.50 L370.54,239.88 L371.04,240.26 L371.54,240.64 L372.03,241.00 L372.53,241.36 L373.03,241.71 L373.52,242.06 L374.02,242.39 L374.52,242.72 L375.01,243.03 L375.51,243.34 L376.01,243.64 L376.50,243.93 L377.00,244.21 L377.50,244.48 L377.99,244.74 L378.49,245.00 L378.99,245.26 L379.48,245.52 L379.98,245.78 L380.48,246.04 L380.97,246.29 L381.47,246.55 L381.97,246.80 L382.46,247.04 L382.96,247.29 L383.46,247.53 L383.95,247.77 L384.45,248.00 L384.95,248.23 L385.44,248.46 L385.94,248.68 L386.44,248.90 L386.93,249.12 L387.43,249.33 L387.93,249.53 L388.42,249.73 L388.92,249.93 L389.42,250.12 L389.91,250.30 L390.41,250.48 L390.91,250.65 L391.40,250.82 L391.90,250.98 L392.40,251.14 L392.89,251.28 L393.39,251.42 L393.89,251.56 L394.38,251.68 L394.88,251.80 L395.38,251.91 L395.87,252.02 L396.37,252.11 L396.87,252.21 L397.36,252.29 L397.86,252.38 L398.36,252.46 L398.85,252.54 L399.35,252.62 L399.85,252.69 L400.34,252.77 L400.84,252.84 L401.34,252.90 L401.83,252.97 L402.33,253.03 L402.83,253.09 L403.32,253.15 L403.82,253.21 L404.32,253.27 L404.81,253.33 L405.31,253.38 L405.81,253.43 L406.30,253.49 L406.80,253.54 L407.30,253.59 L407.79,253.64 L408.29,253.69 L408.79,253.74 L409.28,253.80 L409.78,253.85 L410.28,253.90 L410.77,253.95 L411.27,254.00 L411.77,254.05 L412.26,254.10 L412.76,254.16 L413.26,254.21 L413.75,254.26 L414.25,254.31 L414.75,254.37 L415.24,254.42 L415.74,254.47 L416.24,254.52 L416.73,254.57 L417.23,254.63 L417.73,254.68 L418.22,254.73 L418.72,254.77 L419.22,254.82 L419.71,254.87 L420.21,254.92 L420.71,254.96 L421.20,255.01 L421.70,255.05 L422.20,255.09 L422.69,255.13 L423.19,255.17 L423.69,255.21 L424.18,255.25 L424.68,255.29 L425.18,255.32 L425.67,255.35 L426.17,255.38 L426.67,255.41 L427.16,255.44 L427.66,255.47 L428.15,255.49 L428.65,255.52 L429.15,255.55 L429.64,255.57 L430.14,255.60 L430.64,255.62 L431.13,255.64 L431.63,255.67 L432.13,255.69 L432.62,255.71 L433.12,255.73 L433.62,255.76 L434.11,255.78 L434.61,255.79 L435.11,255.81 L435.60,255.83 L436.10,255.85 L436.60,255.86 L437.09,255.88 L437.59,255.89 L438.09,255.90 L438.58,255.92 L439.08,255.93 L439.58,255.94 L440.07,255.94 L440.57,255.95 L441.07,255.96 L441.56,255.97 L442.06,255.97 L442.56,255.98 L443.05,255.99 L443.55,256.00 L444.05,256.00 L444.54,256.01 L445.04,256.02 L445.54,256.02 L446.03,256.03 L446.53,256.04 L447.03,256.04 L447.52,256.05 L448.02,256.05 L448.52,256.06 L449.01,256.07 L449.51,256.07 L450.01,256.08 L450.50,256.08 L451.00,256.09 L451.50,256.09 L451.99,256.10 L452.49,256.10 L452.99,256.10 L453.48,256.11 L453.98,256.11 L454.48,256.11 L454.97,256.12 L455.47,256.12 L455.97,256.12 L456.46,256.13 L456.96,256.13 L457.46,256.13 L457.95,256.13 L458.45,256.13 L458.95,256.13 L459.44,256.13 L459.94,256.14 L460.44,256.14 L460.93,256.14 L461.43,256.13 L461.93,256.13 L462.42,256.13 L462.92,256.12 L463.42,256.11 L463.91,256.11 L464.41,256.10 L464.91,256.09 L465.40,256.07 L465.90,256.06 L466.40,256.05 L466.89,256.03 L467.39,256.02 L467.89,256.00 L468.38,255.98 L468.88,255.96 L469.38,255.95 L469.87,255.92 L470.37,255.90 L470.87,255.88 L471.36,255.86 L471.86,255.84 L472.36,255.81 L472.85,255.79 L473.35,255.76 L473.85,255.74 L474.34,255.71 L474.84,255.69 L475.34,255.66 L475.83,255.63 L476.33,255.61 L476.83,255.58 L477.32,255.55 L477.82,255.52 L478.32,255.49 L478.81,255.46 L479.31,255.44 L479.81,255.41 L480.30,255.38 L480.80,255.35 L481.30,255.32 L481.79,255.29 L482.29,255.26 L482.79,255.23 L483.28,255.21 L483.78,255.18 L484.28,255.15 L484.77,255.12 L485.27,255.09 L485.77,255.07 L486.26,255.04 L486.76,255.01 L487.26,254.99 L487.75,254.96 L488.25,254.94 L488.75,254.91 L489.24,254.89 L489.74,254.87 L490.24,254.84 L490.73,254.82 L491.23,254.80 L491.73,254.78 L492.22,254.76 L492.72,254.74 L493.22,254.71 L493.71,254.69 L494.21,254.67 L494.71,254.65 L495.20,254.63 L495.70,254.60 L496.20,254.58 L496.69,254.56 L497.19,254.54 L497.69,254.52 L498.18,254.49 L498.68,254.47 L499.18,254.45 L499.67,254.43 L500.17,254.41 L500.67,254.39 L501.16,254.36 L501.66,254.34 L502.16,254.32 L502.65,254.30 L503.15,254.28 L503.64,254.25 L504.14,254.23 L504.64,254.21 L505.13,254.19 L505.63,254.17 L506.13,254.14 L506.62,254.12 L507.12,254.10 L507.62,254.08 L508.11,254.06 L508.61,254.03 L509.11,254.01 L509.60,253.99 L510.10,253.97 L510.60,253.95 L511.09,253.92 L511.59,253.90 L512.09,253.88 L512.58,253.86 L513.08,253.84 L513.58,253.81 L514.07,253.79 L514.57,253.77 L515.07,253.75 L515.56,253.73 L516.06,253.70 L516.56,253.68 L517.05,253.66 L517.55,253.64 L518.05,253.62 L518.54,253.59 L519.04,253.57 L519.54,253.55 L520.03,253.53 L520.53,253.50 L521.03,253.48 L521.52,253.46 L522.02,253.44 L522.52,253.42 L523.01,253.39 L523.51,253.37 L524.01,253.35 L524.50,253.33 L525.00,253.31 L525.50,253.28 L525.99,253.26 L526.49,253.24 L526.99,253.22 L527.48,253.20 L527.98,253.17 L528.48,253.15 L528.97,253.13 L529.47,253.11 L529.97,253.08 L530.46,253.06 L530.96,253.04 L531.46,253.02 L531.95,253.00 L532.45,252.97 L532.95,252.95 L533.44,252.93 L533.94,252.91 L534.44,252.88 L534.93,252.86 L535.43,252.84 L535.93,252.82 L536.42,252.80 L536.92,252.77 L537.42,252.75 L537.91,252.73 L538.41,252.71 L538.91,252.68 L539.40,252.66 L539.90,252.64" stroke="#ff0000" stroke-width="1.4" fill="none" stroke-linejoin="round"/>
<text transform="translate(40.40,289.00) scale(1.14,1)" text-anchor="end" font-size="10.8">-0.2</text>
<text transform="translate(40.40,249.71) scale(1.14,1)" text-anchor="end" font-size="10.8">-0.1</text>
<text transform="translate(40.40,210.43) scale(1.14,1)" text-anchor="end" font-size="10.8">0</text>
<text transform="translate(40.40,171.14) scale(1.14,1)" text-anchor="end" font-size="10.8">0.1</text>
<text transform="translate(40.40,131.86) scale(1.14,1)" text-anchor="end" font-size="10.8">0.2</text>
<text transform="translate(40.40,92.57) scale(1.14,1)" text-anchor="end" font-size="10.8">0.3</text>
<text transform="translate(40.40,53.29) scale(1.14,1)" text-anchor="end" font-size="10.8">0.4</text>
<text transform="translate(40.40,14.00) scale(1.14,1)" text-anchor="end" font-size="10.8">0.5</text>
<text transform="translate(44.50,299.80) scale(1.14,1)" text-anchor="middle" font-size="10.8">0</text>
<text transform="translate(94.04,299.80) scale(1.14,1)" text-anchor="middle" font-size="10.8">5</text>
<text transform="translate(143.58,299.80) scale(1.14,1)" text-anchor="middle" font-size="10.8">10</text>
<text transform="translate(193.12,299.80) scale(1.14,1)" text-anchor="middle" font-size="10.8">15</text>
<text transform="translate(242.66,299.80) scale(1.14,1)" text-anchor="middle" font-size="10.8">20</text>
<text transform="translate(292.20,299.80) scale(1.14,1)" text-anchor="middle" font-size="10.8">25</text>
<text transform="translate(341.74,299.80) scale(1.14,1)" text-anchor="middle" font-size="10.8">30</text>
<text transform="translate(391.28,299.80) scale(1.14,1)" text-anchor="middle" font-size="10.8">35</text>
<text transform="translate(440.82,299.80) scale(1.14,1)" text-anchor="middle" font-size="10.8">40</text>
<text transform="translate(490.36,299.80) scale(1.14,1)" text-anchor="middle" font-size="10.8">45</text>
<text transform="translate(539.90,299.80) scale(1.14,1)" text-anchor="middle" font-size="10.8">50</text>
<text transform="translate(292.00,314.60) scale(1.22,1)" text-anchor="middle" font-size="10.8">Time (second)</text>
<text transform="translate(14.5,146.6) scale(1.05,1) rotate(-90)" text-anchor="middle" font-size="11.72" xml:space="preserve">BESS power  (pu)</text>
<rect x="395.8" y="16.6" width="136.6" height="44.6" fill="#fff" stroke="#666" stroke-width="1"/>
<path d="M397.9,24.8H422.8" stroke="#000" stroke-width="1.2"/>
<text transform="translate(425.00,29.30) scale(1.125,1)" text-anchor="start" font-size="10.5">Proposed VIC</text>
<path d="M397.9,38.7H422.8" stroke="#0000ff" stroke-width="1.2"/>
<text transform="translate(425.00,43.20) scale(1.125,1)" text-anchor="start" font-size="10.5">Conventional VIC</text>
<path d="M397.9,52.9H422.8" stroke="#ff0000" stroke-width="1.2"/>
<text transform="translate(425.00,57.40) scale(1.125,1)" text-anchor="start" font-size="10.5">VIC based on AOA</text>
</svg>
</body></html>
